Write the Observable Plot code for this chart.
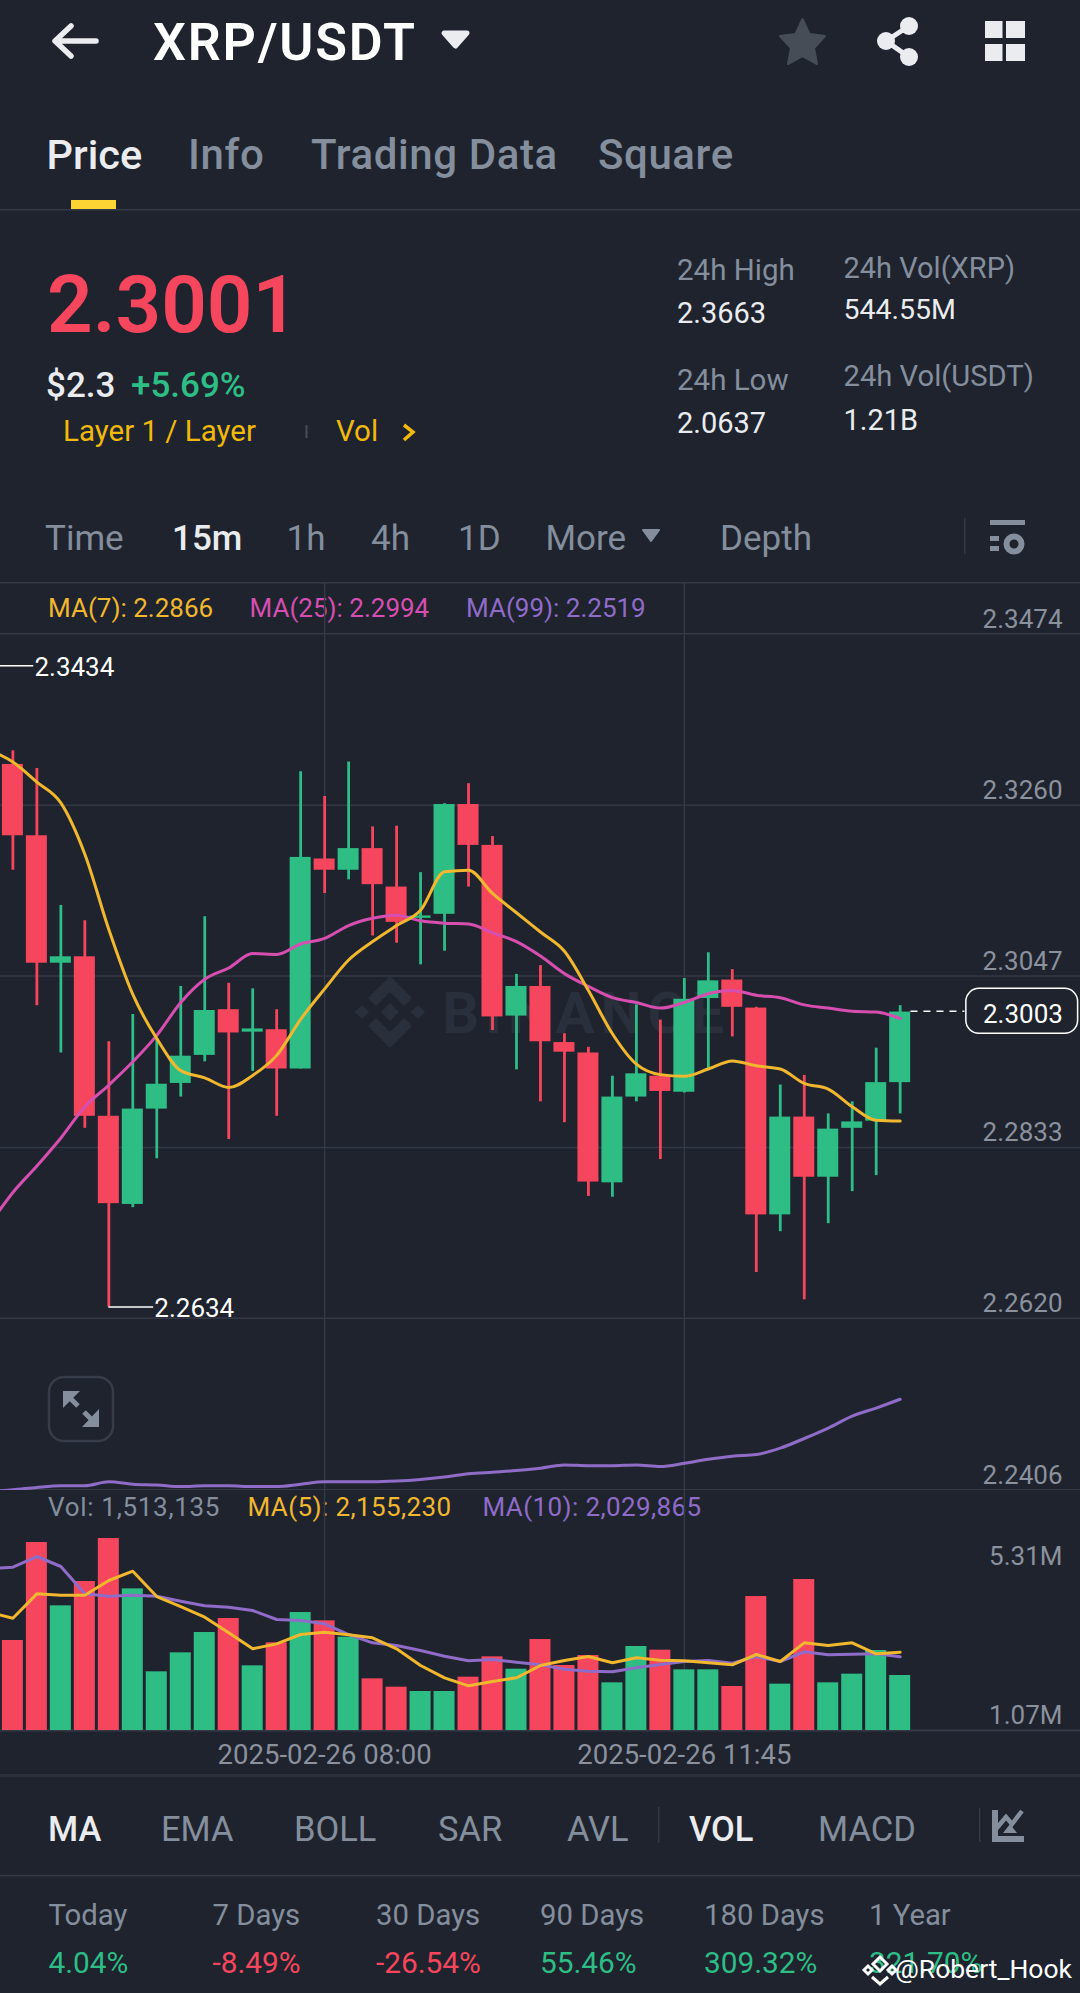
<!DOCTYPE html>
<html><head><meta charset="utf-8">
<script src="https://cdn.jsdelivr.net/npm/d3@7"></script>
<script src="https://cdn.jsdelivr.net/npm/@observablehq/plot@0.6"></script>
<style>
html,body{margin:0;padding:0;background:#1e232e;}
#page{position:relative;width:1080px;height:1993px;overflow:hidden;background:#1e232e;font-family:Roboto,sans-serif;}
#page span{position:absolute;white-space:nowrap;line-height:1;transform:translateY(-50%);}
#page>svg{position:absolute;left:0;}
</style></head><body><div id="page"></div>
<script>
// ---------- chart data ----------
const candleStart = "2025-02-26T04:45:00Z";
const candleOpen = [2.3311,2.3222,2.3063,2.3071,2.2872,2.2762,2.2881,2.2913,2.2948,2.3005,2.2977,2.2980,2.2931,2.3193,2.3179,2.3206,2.3158,2.3119,2.3124,2.3261,2.3210,2.2997,2.3034,2.2964,2.2951,2.2789,2.2896,2.2922,2.2902,2.3019,2.3042,2.3007,2.2749,2.2871,2.2796,2.2857,2.2866,2.2914];
const candleClose = [2.3222,2.3063,2.3071,2.2872,2.2763,2.2881,2.2912,2.2947,2.3004,2.2976,2.2981,2.2931,2.3195,2.3179,2.3206,2.3161,2.3114,2.3122,2.3261,2.3210,2.2996,2.3034,2.2965,2.2952,2.2790,2.2896,2.2925,2.2903,2.3018,2.3041,2.3008,2.2749,2.2871,2.2796,2.2856,2.2865,2.2914,2.3002];
const candleHigh = [2.3328,2.3306,2.3135,2.3116,2.2965,2.2999,2.2969,2.3034,2.3121,2.3038,2.3031,2.3005,2.3302,2.3271,2.3314,2.3233,2.3234,2.3176,2.3262,2.3287,2.3221,2.3049,2.3060,2.2975,2.2958,2.2922,2.3011,2.2992,2.3044,2.3076,2.3055,2.3008,2.2911,2.2923,2.2875,2.2890,2.2957,2.3010];
const candleLow = [2.3179,2.3010,2.2951,2.2857,2.2634,2.2758,2.2819,2.2896,2.2940,2.2843,2.2928,2.2872,2.2931,2.3150,2.3167,2.3097,2.3088,2.3061,2.3078,2.3158,2.2979,2.2930,2.2890,2.2864,2.2772,2.2771,2.2890,2.2818,2.2901,2.2930,2.2971,2.2677,2.2728,2.2643,2.2738,2.2778,2.2798,2.2875];
// moving averages start one candle before the first visible one
const ma7 = [2.3329,2.3314,2.3289,2.3263,2.3199,2.3105,2.3024,2.2969,2.2929,2.2920,2.2908,2.2923,2.2948,2.2993,2.3031,2.3067,2.3090,2.3110,2.3129,2.3177,2.3179,2.3150,2.3126,2.3102,2.3078,2.3029,2.2975,2.2937,2.2924,2.2922,2.2931,2.2941,2.2935,2.2931,2.2913,2.2906,2.2884,2.2867,2.2866];
const ma25 = [2.2736,2.2777,2.2810,2.2845,2.2884,2.2911,2.2940,2.2973,2.3014,2.3043,2.3057,2.3075,2.3074,2.3087,2.3094,2.3110,2.3119,2.3123,2.3116,2.3113,2.3112,2.3101,2.3090,2.3072,2.3050,2.3034,2.3020,2.3014,2.3007,2.3014,2.3025,2.3029,2.3023,2.3020,2.3011,2.3007,2.3003,2.3002,2.2994];
const ma99 = [2.2404,2.2406,2.2409,2.2411,2.2411,2.2416,2.2413,2.2412,2.2410,2.2411,2.2411,2.2410,2.2410,2.2413,2.2416,2.2416,2.2416,2.2417,2.2419,2.2422,2.2426,2.2428,2.2430,2.2433,2.2437,2.2436,2.2436,2.2437,2.2435,2.2439,2.2444,2.2448,2.2450,2.2458,2.2470,2.2483,2.2498,2.2508,2.2519];
const volumes = [2.476,5.172,3.430,4.099,5.282,3.897,1.614,2.137,2.696,3.081,1.779,2.412,3.246,3.017,2.568,1.421,1.192,1.073,1.073,1.467,2.027,1.687,2.503,1.788,2.063,1.311,2.311,2.210,1.669,1.669,1.210,3.686,1.275,4.154,1.311,1.550,2.201,1.513];
const volMa5 = [3.255,3.090,3.760,3.723,3.723,4.127,4.383,3.686,3.411,3.118,2.687,2.247,2.384,2.641,2.705,2.632,2.549,2.247,1.788,1.449,1.229,1.348,1.449,1.788,1.926,2.036,1.862,1.999,1.935,1.917,1.862,1.806,2.091,1.898,2.412,2.338,2.412,2.109,2.155];
const volMa10 = [4.447,4.493,4.787,4.512,3.760,3.696,3.723,3.696,3.558,3.430,3.393,3.301,3.054,3.026,2.934,2.641,2.412,2.338,2.201,2.045,1.917,1.953,1.880,1.806,1.687,1.632,1.614,1.724,1.816,1.898,1.926,1.852,2.036,1.898,2.164,2.082,2.100,2.109,2.030];
const priceTicks = [2.3474,2.3260,2.3047,2.2833,2.2620,2.2406];
const timeTicks = ["2025-02-26T08:00:00Z","2025-02-26T11:45:00Z"];
const volTickLabels = ["5.31M","1.07M"];
const highMark = {index:-1, price:2.3434};
const lowMark = {index:4, price:2.2634};
const lastPrice = 2.3003;

// ---------- palette ----------
const bg="#1e232e", gridC="#333945", red="#f6465d", green="#2ebd85", grey="#848e9c", white="#eaecef", pure="#ffffff", yellow="#f0b90b";
const lineYellow="#f0b72f", linePink="#d64fb0", linePurple="#8f6cc8";
const axisFont=26;

// ---------- chrome ----------
const page=document.getElementById("page");
function t(text,x,y,size,color,weight=400,extra=""){
  const s=document.createElement("span");s.textContent=text;
  s.style.cssText=`left:${x}px;top:${y}px;font-size:${size}px;color:${color};font-weight:${weight};${extra}`;
  page.appendChild(s);
}
const icons=`<svg width="1080" height="1993" style="top:0">
<g fill="none" stroke-linecap="round" stroke-linejoin="round">
<path d="M96 41H56M71 26L55 41L71 56" stroke="${white}" stroke-width="5.5"/>
</g>
<path d="M444 33H467L455.5 46Z" fill="${white}" stroke="${white}" stroke-width="5" stroke-linejoin="round"/>
<path d="M802.5 19L809.5 34L825 36L814 48L817 64L802.5 56L788 64L791 48L780 36L795.5 34Z" fill="#474d57" stroke="#474d57" stroke-width="2" stroke-linejoin="round"/>
<g fill="${white}"><circle cx="909" cy="26" r="9"/><circle cx="886" cy="41" r="9"/><circle cx="909" cy="57" r="9"/></g>
<path d="M909 26L886 41L909 57" fill="none" stroke="${white}" stroke-width="5"/>
<g fill="${white}"><rect x="985" y="21" width="17.5" height="17"/><rect x="1006" y="21" width="19" height="17"/><rect x="985" y="44" width="17.5" height="17"/><rect x="1006" y="44" width="19" height="17"/></g>
<rect x="71" y="200" width="45" height="9" fill="#fcd535"/>
<rect x="0" y="209" width="1080" height="1.5" fill="${gridC}"/>
<path d="M404 425L413 432L404 440" fill="none" stroke="${yellow}" stroke-width="3.5"/>
<rect x="305.5" y="425" width="2" height="13" fill="#474d57"/>
<path d="M643 530H659L651 541Z" fill="${grey}" stroke="${grey}" stroke-width="2" stroke-linejoin="round"/>
<rect x="964" y="518" width="1.5" height="36" fill="${gridC}"/>
<rect x="990" y="520" width="35" height="5" fill="${grey}"/>
<rect x="990" y="536" width="9" height="5" fill="${grey}"/><rect x="990" y="546" width="9" height="5" fill="${grey}"/>
<circle cx="1014" cy="544" r="7.5" fill="none" stroke="${grey}" stroke-width="6"/>
<rect x="0" y="582" width="1080" height="1.5" fill="${gridC}"/>
<g fill="#2a303b" transform="translate(390 1012)">
<path d="M0 -36L22 -14L14 -6L0 -20L-14 -6L-22 -14Z"/><path d="M0 36L22 14L14 6L0 20L-14 6L-22 14Z"/>
<path d="M0 -9L9 0L0 9L-9 0Z"/><path d="M-28 -7L-21 0L-28 7L-35 0Z"/><path d="M28 -7L35 0L28 7L21 0Z"/>
</g>
<text x="442" y="1033" font-family="Roboto" font-weight="700" font-size="58" fill="#2a303b" textLength="282">BINANCE</text>
<rect x="49" y="1377" width="64" height="64" rx="15" fill="none" stroke="#363c48" stroke-width="2.5"/>
<g fill="${grey}"><path d="M63 1391H80L63 1408Z"/><path d="M99 1409V1427H82Z"/></g>
<path d="M70 1398L78 1406M84 1412L92 1420" stroke="${grey}" stroke-width="5"/>
<rect x="0" y="1774" width="1080" height="3" fill="#2b303b"/>
<rect x="658" y="1807" width="1.5" height="36" fill="${gridC}"/>
<rect x="979" y="1808" width="1.5" height="34" fill="${gridC}"/>
<g fill="${grey}"><rect x="992" y="1810" width="6" height="32"/><rect x="992" y="1836" width="32" height="6"/><path d="M1010 1824L1017 1833H1003Z"/></g>
<path d="M996 1829L1006 1817L1012 1824L1022 1811" fill="none" stroke="${grey}" stroke-width="4.5"/>
<rect x="0" y="1875" width="1080" height="1.5" fill="${gridC}"/>
</svg>`;
page.insertAdjacentHTML("beforeend",icons);

t("XRP/USDT",153,42.5,52,pure,600,"letter-spacing:1.8px;");
t("Price",46.5,155,41.5,white,500);
[["Info",188],["Trading Data",311],["Square",598]].forEach(d=>t(d[0],d[1],155,42,grey,500,"letter-spacing:.6px;"));
t("2.3001",47,305,80,red,600);
t("$2.3",46,385,35,white,500);
t("+5.69%",131,385,35,green,500);
t("Layer 1 / Layer",63,432,29.5,yellow);
t("Vol",336,432,29.5,yellow);
t("24h High",677,271,29.5,grey); t("2.3663",677,313,29,white);
t("24h Low",677,381,29.5,grey); t("2.0637",677,423,29,white);
t("24h Vol(XRP)",843.5,268,29,grey); t("544.55M",843.5,310,28.5,white);
t("24h Vol(USDT)",843.5,377,29.2,grey); t("1.21B",843.5,420,29,white);
[["Time",45,grey,400],["15m",172,white,500],["1h",286.5,grey,400],["4h",371,grey,400],["1D",458,grey,400],["More",545.5,grey,400],["Depth",720,grey,400]].forEach(d=>t(d[0],d[1],538,35,d[2],d[3]));
const legendFont=26;
t("MA(7): 2.2866",48,607.5,legendFont,lineYellow);
t("MA(25): 2.2994",249.5,607.5,legendFont,linePink);
t("MA(99): 2.2519",466,607.5,legendFont,linePurple);
t("Vol: 1,513,135",48,1507,26,grey,400,"letter-spacing:.7px;");
t("MA(5): 2,155,230",247.5,1507,26,lineYellow,400,"letter-spacing:.4px;");
t("MA(10): 2,029,865",482.5,1507,26,linePurple,400,"letter-spacing:.4px;");
[["MA",48,white,500],["EMA",161,grey,400],["BOLL",294,grey,400],["SAR",438,grey,400],["AVL",567,grey,400],["VOL",689,white,500],["MACD",818,grey,400]].forEach(d=>t(d[0],d[1],1829,34.5,d[2],d[3]));
[["Today",48.5,"4.04%",green],["7 Days",212.5,"-8.49%",red],["30 Days",376,"-26.54%",red],["90 Days",540,"55.46%",green],["180 Days",704,"309.32%",green],["1 Year",869,"321.70%",green]].forEach(d=>{
  t(d[0],d[1],1916,29.3,grey); t(d[2],d[1],1963,29.8,d[3]);
});

// ---------- scales ----------
const stepMin=15, base=new Date(candleStart).getTime();
const at=i=>new Date(base+i*stepMin*60000);
const xDomain=[at(-0.517),at(44.52)];
const candles=candleOpen.map((o,i)=>({i,t:at(i),open:o,close:candleClose[i],high:candleHigh[i],low:candleLow[i],vol:volumes[i]*1e6,c:candleClose[i]>=o?green:red}));
const lineRows=(arr,k=1)=>arr.map((v,i)=>({t:at(i-1),v:v*k}));
const timeDates=timeTicks.map(d=>new Date(d));
const halfBody=0.438;
const maWidth=3;

// ---------- price panel ----------
const priceTop=583, priceH=907;
const yPx=py=>py-priceTop;
const pricePlot=Plot.plot({
  width:1080,height:priceH,margin:0,
  style:{background:"transparent",fontFamily:"Roboto",overflow:"hidden"},
  x:{type:"utc",domain:xDomain,range:[0,1080],axis:null},
  y:{domain:[2.2406,2.3474],range:[yPx(1489.3),yPx(633.3)],label:null},
  marks:[
    Plot.ruleX(timeDates,{stroke:gridC,strokeWidth:1.5}),
    Plot.gridY(priceTicks,{stroke:gridC,strokeOpacity:1,strokeWidth:1.5}),
    Plot.axisY(priceTicks,{anchor:"right",tickSize:0,tickPadding:0,textAnchor:"end",dx:-18,dy:-14.5,fontSize:axisFont,fill:"#8b919d",tickFormat:d3.format(".4f"),label:null}),
    Plot.ruleX(candles,{x:"t",y1:"low",y2:"high",stroke:"c",strokeWidth:2.8}),
    Plot.rect(candles,{x1:d=>at(d.i-halfBody),x2:d=>at(d.i+halfBody),y1:"open",y2:"close",fill:"c"}),
    Plot.line(lineRows(ma99),{x:"t",y:"v",stroke:linePurple,strokeWidth:maWidth,curve:"monotone-x"}),
    Plot.line(lineRows(ma25),{x:"t",y:"v",stroke:linePink,strokeWidth:maWidth,curve:"monotone-x"}),
    Plot.line(lineRows(ma7),{x:"t",y:"v",stroke:lineYellow,strokeWidth:maWidth,curve:"monotone-x"}),
    Plot.ruleY([highMark,lowMark],{y:"price",x1:d=>at(d.index),x2:d=>at(d.index+1.87),stroke:pure,strokeWidth:1.5}),
    Plot.text([highMark,lowMark],{x:d=>at(d.index),y:"price",text:d=>d.price.toFixed(4),dx:45.5,dy:1.5,textAnchor:"start",fontSize:axisFont,fill:pure}),
    Plot.ruleY([lastPrice],{x1:at(37+0.45),x2:at(37+2.7),stroke:pure,strokeWidth:1.5,strokeDasharray:"7 6"}),
    Plot.rect([lastPrice],{x1:at(37+2.76),x2:at(37+7.42),y1:lastPrice-0.0028,y2:lastPrice+0.0028,fill:bg,stroke:pure,strokeWidth:1.5,rx:13}),
    Plot.text([lastPrice],{x:at(37+5.12),y:d=>d,text:d=>d.toFixed(4),dy:3,fontSize:axisFont,fill:pure})
  ]
});
pricePlot.style.cssText+=`;position:absolute;left:0;top:${priceTop}px;`;
page.appendChild(pricePlot);

// ---------- volume panel ----------
const volTop=1490, volH=285, volFloor=1730;
const volPlot=Plot.plot({
  width:1080,height:volH,marginTop:0,marginLeft:0,marginRight:0,marginBottom:volTop+volH-volFloor,
  style:{background:"transparent",fontFamily:"Roboto",overflow:"hidden"},
  x:{type:"utc",domain:xDomain,range:[0,1080],label:null},
  y:{domain:[0,5.31e6],range:[volFloor-volTop,1537-volTop],axis:null},
  marks:[
    Plot.ruleX(timeDates,{stroke:gridC,strokeWidth:1.5}),
    Plot.ruleY([0],{stroke:gridC,strokeWidth:2}),
    Plot.rect(candles,{x1:d=>at(d.i-halfBody),x2:d=>at(d.i+halfBody),y1:0,y2:"vol",fill:"c"}),
    Plot.line(lineRows(volMa10,1e6),{x:"t",y:"v",stroke:linePurple,strokeWidth:maWidth}),
    Plot.line(lineRows(volMa5,1e6),{x:"t",y:"v",stroke:lineYellow,strokeWidth:maWidth}),
    Plot.text([volTickLabels[0]],{frameAnchor:"right",y:5.31e6,text:d=>d,textAnchor:"end",dx:-18,dy:19.5,fontSize:axisFont,fill:"#8b919d"}),
    Plot.text([volTickLabels[1]],{frameAnchor:"right",y:0,text:d=>d,textAnchor:"end",dx:-18,dy:-15,fontSize:axisFont,fill:"#8b919d"}),
    Plot.axisX(timeDates,{anchor:"bottom",tickSize:0,tickPadding:0,lineAnchor:"middle",dy:24.5,fontSize:27.5,fill:"#8b919d",tickFormat:d3.utcFormat("%Y-%m-%d %H:%M"),label:null})
  ]
});
volPlot.style.cssText+=`;position:absolute;left:0;top:${volTop}px;`;
page.appendChild(volPlot);

// ---------- attribution (on top of everything) ----------
page.insertAdjacentHTML("beforeend",`<svg width="1080" height="1993" style="top:0;pointer-events:none">
<g fill="none" stroke="#fff" stroke-width="3" transform="translate(880 1970)">
<path d="M0 -13L7 -6L0 1L-7 -6Z"/><path d="M-12 0L-8 4L-12 8L-16 4Z" transform="translate(0 -4)"/><path d="M12 0L16 4L12 8L8 4Z" transform="translate(0 -4)"/><path d="M-8 7L0 14L8 7" /></g></svg>`);
t("@Robert_Hook",895,1969,26.5,pure);
</script></body></html>
